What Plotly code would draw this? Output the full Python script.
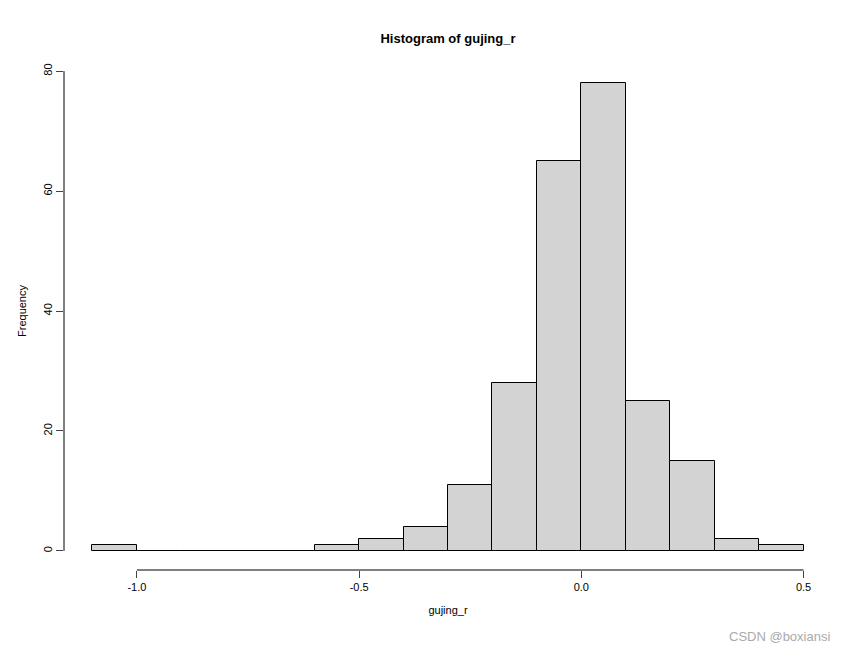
import plotly.graph_objects as go

bin_left = [-1.1,-1.0,-0.9,-0.8,-0.7,-0.6,-0.5,-0.4,-0.3,-0.2,-0.1,0.0,0.1,0.2,0.3,0.4]
counts = [1,0,0,0,0,1,2,4,11,28,65,78,25,15,2,1]
xticks = [-1.0,-0.5,0.0,0.5]
xlabels = ["-1.0","-0.5","0.0","0.5"]
yticks = [0,20,40,60,80]

centers = [b+0.05 for b in bin_left]
fig = go.Figure(go.Bar(x=centers, y=counts, width=0.1,
    marker=dict(color="#d3d3d3", line=dict(color="black", width=1))))
font = dict(family="Liberation Sans, Arial", size=12, color="black")
fig.update_layout(width=865, height=649, plot_bgcolor="white", paper_bgcolor="white",
    margin=dict(l=56, r=41, t=44, b=87, autoexpand=False), showlegend=False, font=font,
    title=dict(text="<b>Histogram of gujing_r</b>", x=0.5, xref="paper", y=1-30/649, yanchor="middle",
               font=dict(family="Liberation Sans, Arial", size=13)),
    bargap=0)
fig.update_xaxes(range=[-1.164, 0.564], tickvals=xticks, ticktext=xlabels, ticks="outside",
    ticklen=7, showgrid=False, zeroline=False, showline=False, tickfont=dict(size=11),
    title=dict(text="gujing_r", standoff=14, font=dict(size=11)))
fig.update_yaxes(range=[-3.2, 83.2], tickvals=yticks, ticks="outside", ticklen=7,
    tickangle=-90, showgrid=False, zeroline=False, showline=False, tickfont=dict(size=11),
    title=dict(text="Frequency", standoff=12, font=dict(size=11)))
fig.add_shape(type="line", xref="x", yref="paper", x0=xticks[0], x1=xticks[-1], y0=0, y1=0,
    line=dict(color="black", width=1))
fig.add_shape(type="line", xref="paper", yref="y", x0=0, x1=0, y0=yticks[0], y1=yticks[-1],
    line=dict(color="black", width=1))
fig.add_annotation(text="CSDN @boxiansi", xref="paper", yref="paper", x=1.0, y=-0.11,
    xanchor="right", yanchor="top", showarrow=False,
    font=dict(family="Liberation Sans, Arial", size=13, color="#aaaaaa"))
fig.write_html("out.html")
